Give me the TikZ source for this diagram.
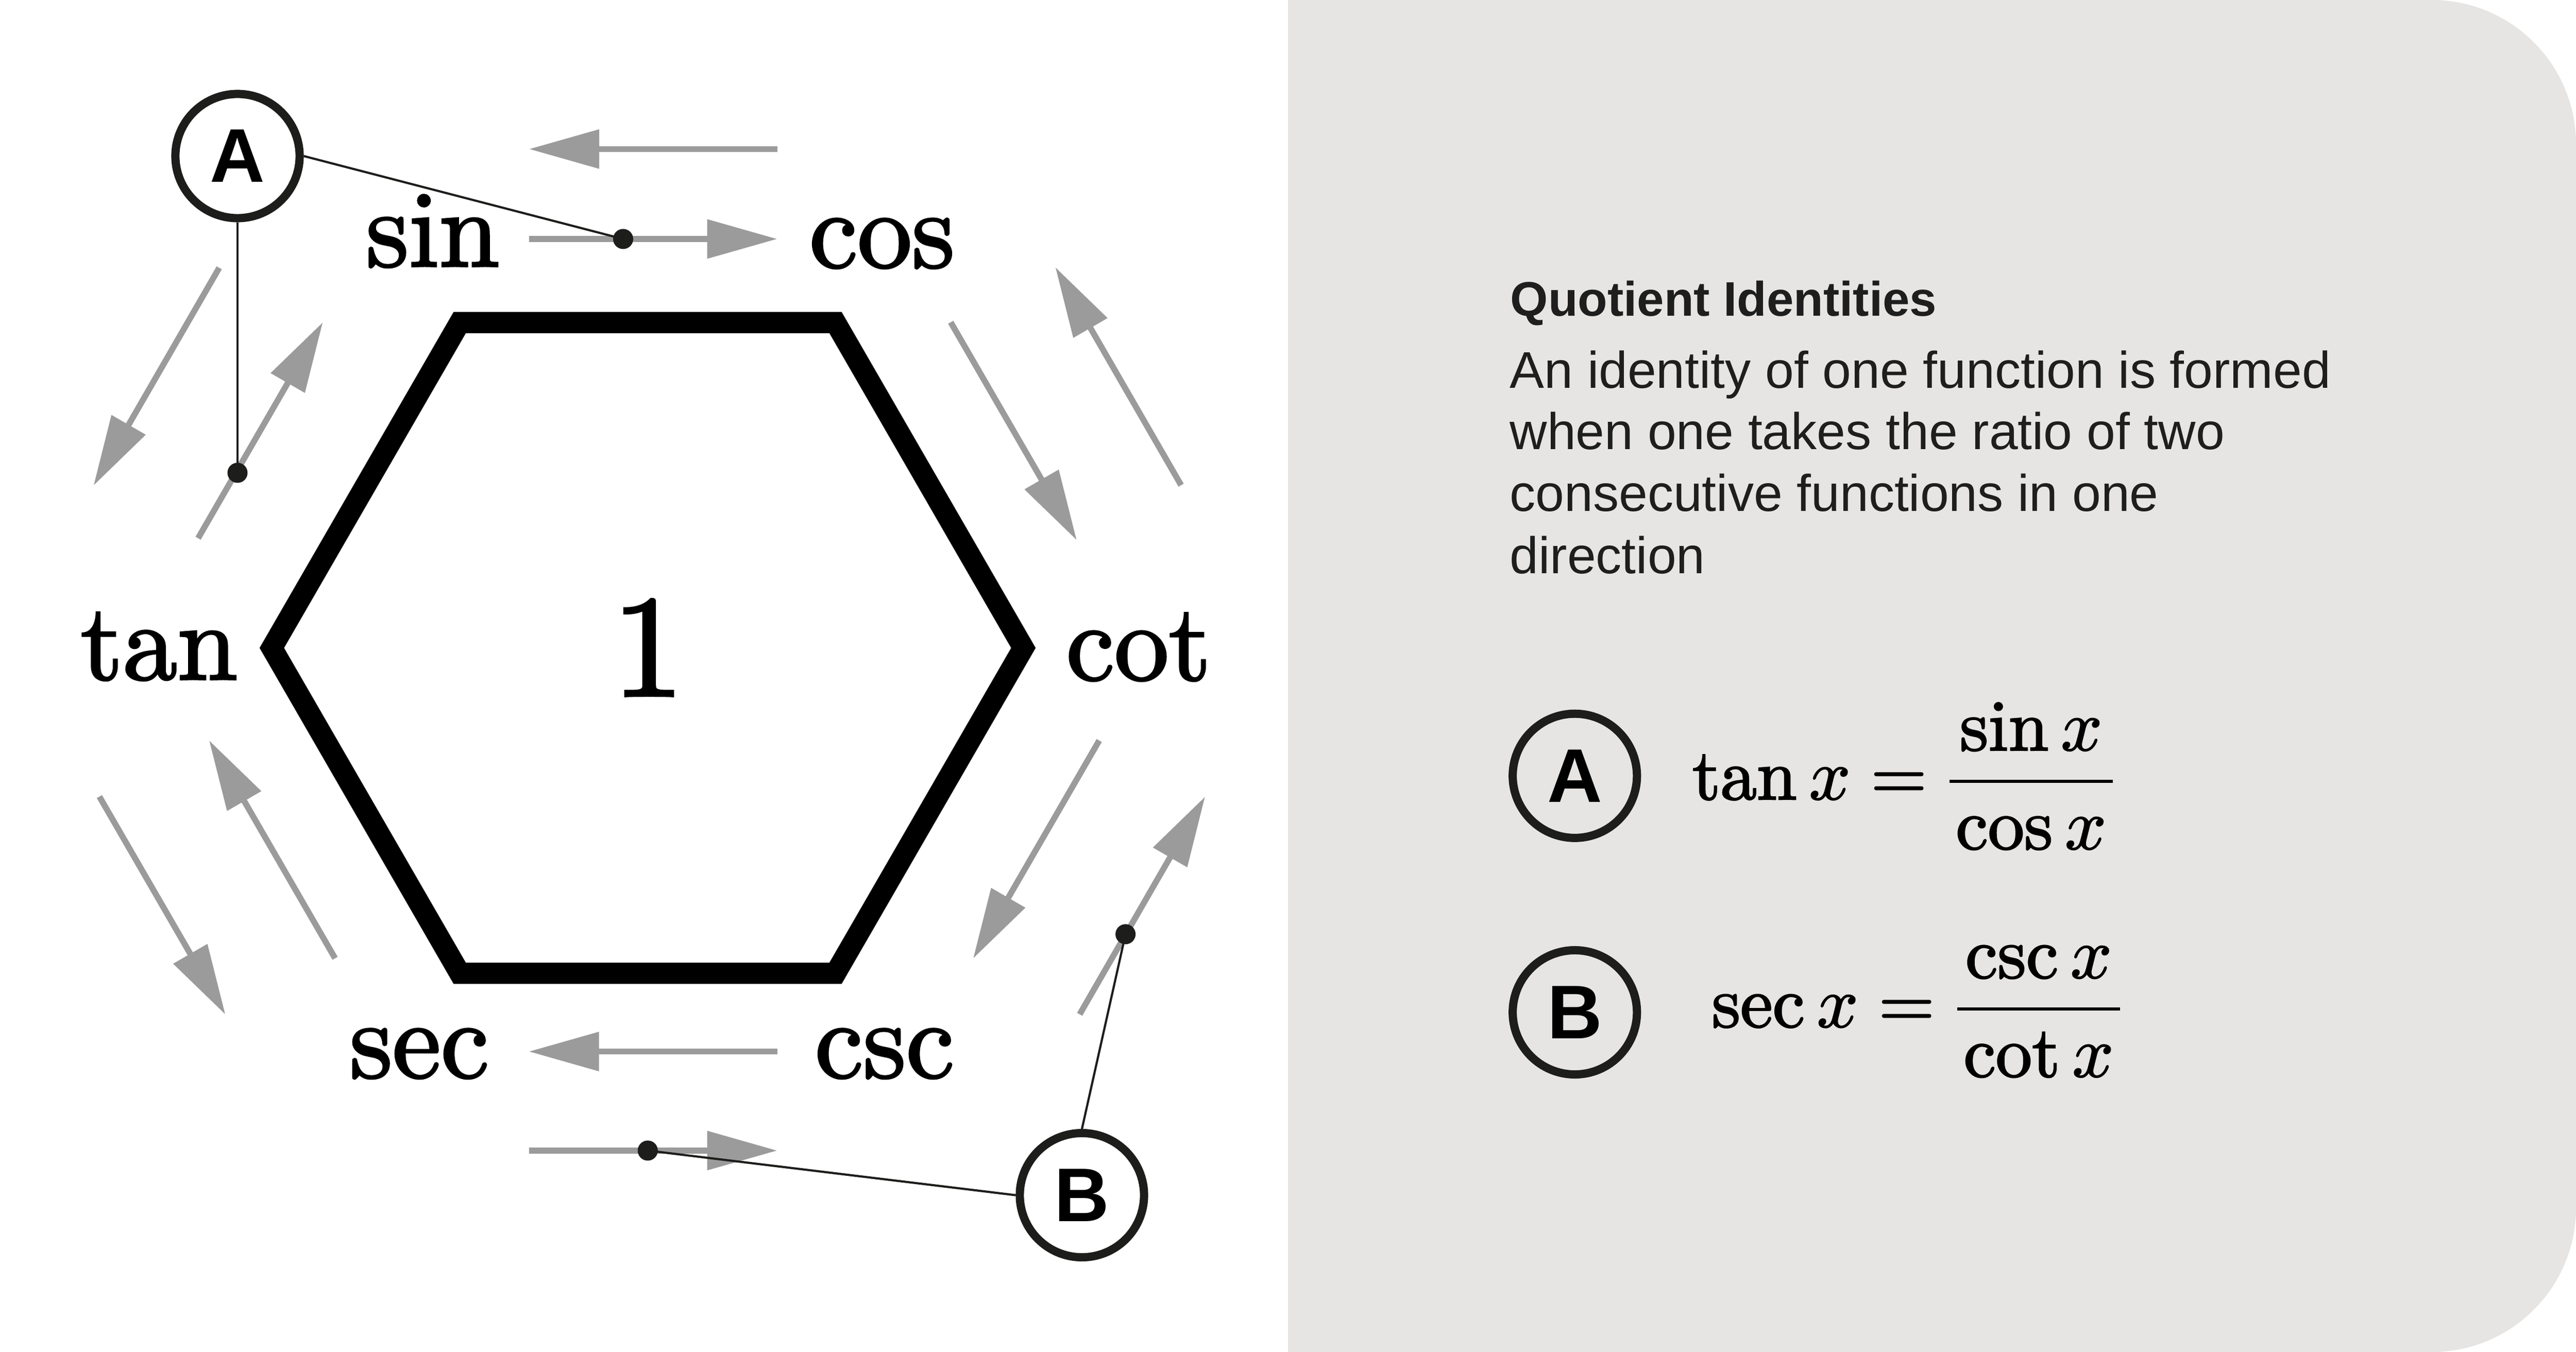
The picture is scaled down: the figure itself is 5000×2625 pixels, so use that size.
\documentclass[tikz,border=0pt]{standalone}
\usepackage{fontspec}
\usepackage{unicode-math}
\setmainfont{lmroman10-regular.otf}[FakeBold=2]
\setmathfont{Latin Modern Math}[FakeBold=1.5]
\newfontfamily\sansf{Liberation Sans}
\usetikzlibrary{arrows.meta}
\definecolor{panelgray}{RGB}{230,229,227}
\definecolor{arrgray}{RGB}{155,155,155}
\definecolor{ink}{RGB}{29,29,27}
\definecolor{txt}{RGB}{30,30,30}
\tikzset{
  garrow/.style={draw=arrgray, line width=3.3pt, -{Triangle[length=1.36cm,width=0.735cm]}},
  hexline/.style={draw=black, line width=11.7pt, line join=miter},
  fnlabel/.style={anchor=base, inner sep=0pt, font=\rmfamily\fontsize{60}{60}\selectfont},
  badge/.style={circle, draw=ink, line width=4.55pt, minimum size=2.41cm, inner sep=0pt, font=\sansf\bfseries\fontsize{42}{42}\selectfont},
  dotnode/.style={circle, fill=ink, minimum size=0.39cm, inner sep=0pt},
  leader/.style={draw=ink, line width=1.2pt},
  bodyline/.style={anchor=base west, inner sep=0pt, text=txt, font=\sansf\fontsize{28.5}{34}\selectfont},
  formula/.style={anchor=base west, inner sep=0pt, font=\fontsize{40}{48}\selectfont},
}
\begin{document}
\begin{tikzpicture}[x=0.01cm, y=-0.01cm]
\useasboundingbox (0,0) rectangle (5000,2625);
\fill[white] (0,0) rectangle (5000,2625);
% panel
\fill[panelgray] (2500,0) -- (4000,0) [rounded corners=2.8cm] -- (5000,0) -- (5000,2625) -- (4000,2625) [sharp corners] -- (2500,2625) -- cycle;

% hexagon
\coordinate (h0) at (1986.4,1258);
\coordinate (h1) at (1621.7,626.3);
\coordinate (h2) at (892.3,626.3);
\coordinate (h3) at (527.6,1258);
\coordinate (h4) at (892.3,1889.7);
\coordinate (h5) at (1621.7,1889.7);
\draw[hexline] (h0) -- (h1) -- (h2) -- (h3) -- (h4) -- (h5) -- cycle;
\node[anchor=base, inner sep=0pt, font=\rmfamily\fontsize{80}{80}\selectfont] (one) at (1258,1351) {1};

% function labels
\node[fnlabel] (sin) at (840,517) {sin};
\node[fnlabel] (cos) at (1712,519) {cos};
\node[fnlabel] (tan) at (309,1319) {tan};
\node[fnlabel] (cot) at (2210,1320) {cot};
\node[fnlabel] (sec) at (814,2092) {sec};
\node[fnlabel] (csc) at (1717,2092) {csc};

% arrow end points
\coordinate (a1s) at (1508.6,289.4);  \coordinate (a1e) at (1027,289.4);
\coordinate (a2s) at (1027,464);      \coordinate (a2e) at (1508.6,464);
\coordinate (a3s) at (425.5,520);     \coordinate (a3e) at (181.6,942.7);
\coordinate (a4s) at (384.5,1045);    \coordinate (a4e) at (626.5,625.8);
\coordinate (a5s) at (1845.3,625.7);  \coordinate (a5e) at (2089.8,1048.7);
\coordinate (a6s) at (2292.5,942);    \coordinate (a6e) at (2048.5,518.9);
\coordinate (a7s) at (2133.5,1437.8); \coordinate (a7e) at (1888.9,1860.9);
\coordinate (a8s) at (2095.6,1969.3); \coordinate (a8e) at (2339,1546.8);
\coordinate (a9s) at (650.4,1860.6);  \coordinate (a9e) at (405.9,1437.5);
\coordinate (a10s) at (192.9,1546.6); \coordinate (a10e) at (437.4,1969.7);
\coordinate (a11s) at (1508.6,2041.6); \coordinate (a11e) at (1026.5,2041.6);
\coordinate (a12s) at (1026.5,2233.9); \coordinate (a12e) at (1508.6,2233.9);
\foreach \i in {1,...,12} { \draw[garrow] (a\i s) -- (a\i e); }

% callouts
\node[badge] (A) at (461,303) {A};
\node[badge] (B) at (2100,2320.5) {B};
\node[dotnode] (dA1) at (1209.5,464) {};
\node[dotnode] (dA2) at (461,918) {};
\node[dotnode] (dB1) at (1257.3,2233.9) {};
\node[dotnode] (dB2) at (2184.6,1813.8) {};
\draw[leader] (A.east) -- (dA1.center);
\draw[leader] (A.south) -- (dA2.center);
\draw[leader] (B.west) -- (dB1.center);
\draw[leader] (B.north) -- (dB2.center);

% panel text
\node[anchor=base west, inner sep=0pt, text=txt, font=\sansf\bfseries\fontsize{26.8}{32}\selectfont] (title) at (2931,614) {Quotient Identities};
\node[bodyline] (b1) at (2930,754) {An identity of one function is formed};
\node[bodyline] (b2) at (2930,872.5) {when one takes the ratio of two};
\node[bodyline] (b3) at (2930,992) {consecutive functions in one};
\node[bodyline] (b4) at (2930,1113.6) {direction};

\node[badge] (pA) at (3056.7,1506.3) {A};
\node[badge] (pB) at (3056.7,1965.5) {B};
\node[formula] (fA) at (3284,1552) {$\displaystyle\tan x=\frac{\mkern1.6mu\sin x\mkern1.6mu}{\mkern1.6mu\cos x\mkern1.6mu}$};
\node[formula] (fB) at (3322,1994) {$\displaystyle\sec x=\frac{\mkern1.6mu\csc x\mkern1.6mu}{\mkern1.6mu\cot x\mkern1.6mu}$};
\end{tikzpicture}
\end{document}
